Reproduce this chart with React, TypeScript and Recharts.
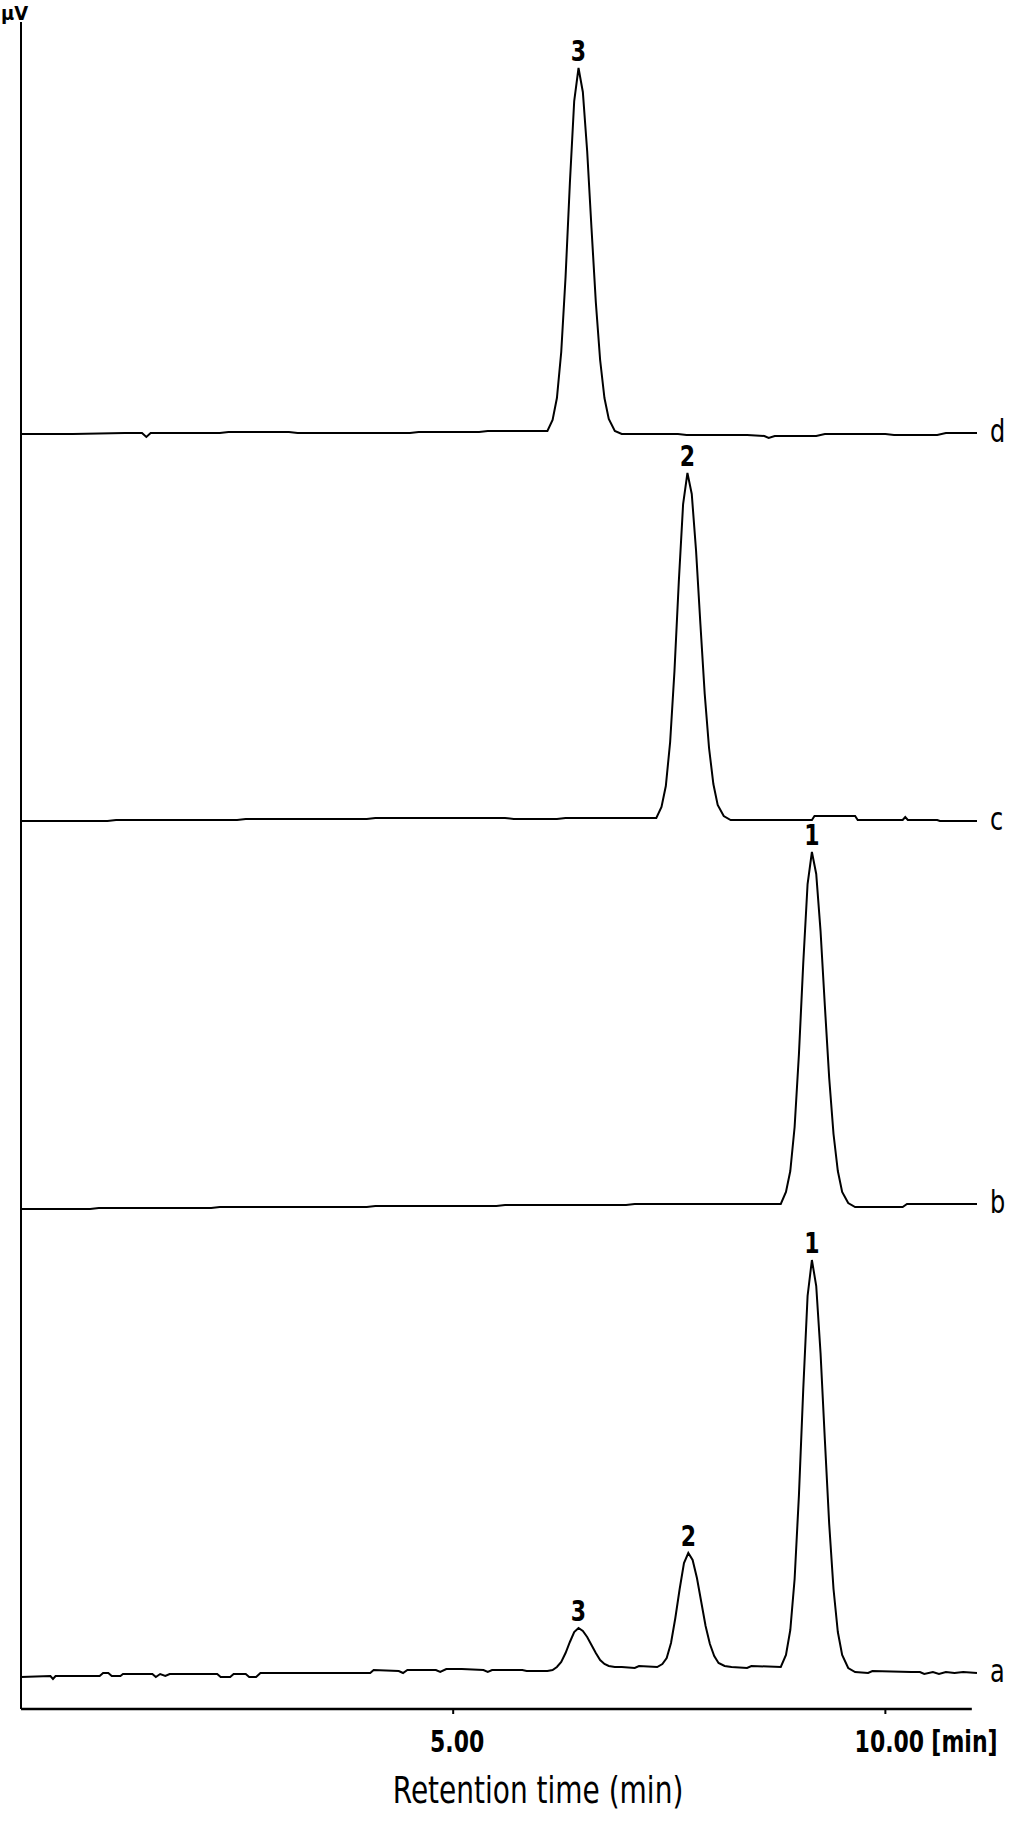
import { LineChart, Line, XAxis, YAxis, ReferenceDot, ReferenceLine } from 'recharts';

const FONT = '"DejaVu Sans", Verdana, sans-serif';

// [retention time (min), detector signal above the trace's own baseline]
const traceD: [number, number][] = [
  [0, -1], [0.6, -1], [1.2, 0], [1.4, 0], [1.45, -4], [1.5, 0], [2.3, 0], [2.4, 1], [3.1, 1], [3.2, 0],
  [4.5, 0], [4.6, 1], [5.3, 1], [5.4, 2], [6.09, 2], [6.15, 13], [6.2, 35], [6.25, 81], [6.3, 156],
  [6.35, 250], [6.4, 332], [6.45, 365], [6.5, 341], [6.55, 282], [6.6, 205], [6.65, 131], [6.7, 73],
  [6.75, 35], [6.8, 14], [6.87, 2], [6.95, -1], [7.6, -1], [7.7, -2], [8.4, -2], [8.6, -3], [8.65, -5],
  [8.72, -3], [9.2, -3], [9.3, -1], [10.0, -1], [10.1, -2], [10.6, -2], [10.7, 0], [11.06, 0],
];

const traceC: [number, number][] = [
  [0, -3], [1.0, -3], [1.1, -2], [2.5, -2], [2.6, -1], [4.0, -1], [4.1, 0], [5.6, 0], [5.7, -1], [6.2, -1],
  [6.3, 0], [7.35, 0], [7.41, 11], [7.46, 32], [7.51, 76], [7.56, 147], [7.61, 236], [7.66, 314],
  [7.71, 345], [7.76, 324], [7.81, 267], [7.86, 194], [7.91, 124], [7.96, 70], [8.01, 34], [8.06, 13],
  [8.13, 2], [8.21, -2], [9.15, -2], [9.18, 2], [9.65, 2], [9.68, -2], [10.2, -2], [10.23, 1],
  [10.26, -2], [10.6, -2], [10.63, -3], [11.06, -3],
];

const traceB: [number, number][] = [
  [0, -5], [0.8, -5], [0.9, -4], [2.2, -4], [2.3, -3], [4.0, -3], [4.1, -2], [5.5, -2], [5.6, -1],
  [7.0, -1], [7.1, 0], [8.79, 0], [8.85, 12], [8.9, 33], [8.95, 77], [9.0, 150], [9.05, 241],
  [9.1, 320], [9.15, 352], [9.2, 330], [9.25, 273], [9.3, 198], [9.35, 126], [9.4, 70], [9.45, 33],
  [9.5, 12], [9.57, 1], [9.65, -3], [10.2, -3], [10.25, 0], [11.06, 0],
];

const traceA: [number, number][] = [
  [0, -1], [0.34, 0], [0.37, -3], [0.4, 0], [0.91, 0], [0.95, 3], [1.01, 3], [1.05, 0], [1.15, 0],
  [1.18, 2], [1.52, 2], [1.56, -1], [1.61, 2], [1.67, 0], [1.72, 2], [2.27, 2], [2.31, -1], [2.42, -1],
  [2.46, 2], [2.6, 2], [2.64, -1], [2.72, -1], [2.77, 3], [4.04, 3], [4.08, 6], [4.37, 5], [4.42, 3],
  [4.47, 6], [4.8, 6], [4.85, 4], [4.92, 7], [5.1, 7], [5.35, 6], [5.4, 4], [5.45, 6], [5.8, 6],
  [5.85, 5], [6.09, 5], [6.15, 6], [6.2, 9], [6.25, 14], [6.3, 23], [6.35, 34], [6.4, 44], [6.45, 48],
  [6.5, 45], [6.55, 39], [6.6, 31], [6.65, 23], [6.7, 16], [6.75, 12], [6.8, 10], [6.87, 9], [6.95, 9],
  [7.1, 8], [7.15, 10], [7.36, 9], [7.42, 12], [7.47, 18], [7.52, 33], [7.57, 58], [7.62, 87],
  [7.67, 113], [7.72, 123], [7.77, 116], [7.82, 98], [7.87, 74], [7.92, 50], [7.97, 32], [8.02, 20],
  [8.07, 13], [8.14, 10], [8.22, 9], [8.4, 8], [8.45, 10], [8.79, 9], [8.85, 21], [8.9, 46], [8.95, 97],
  [9.0, 181], [9.05, 287], [9.1, 380], [9.15, 416], [9.2, 390], [9.25, 323], [9.3, 236], [9.35, 152],
  [9.4, 87], [9.45, 44], [9.5, 21], [9.57, 8], [9.65, 4], [9.8, 3], [9.85, 5], [10.3, 4], [10.4, 4],
  [10.45, 2], [10.55, 4], [10.62, 2], [10.7, 4], [10.8, 3], [10.9, 4], [11.06, 3],
];

const traceNames = ['d', 'c', 'b', 'a'];
const traceOffsets = [1276, 891, 505, 33];
const traces = [traceD, traceC, traceB, traceA];

const peakTraces = ['d', 'c', 'b', 'a', 'a', 'a'];
const peakTimes = [6.45, 7.71, 9.15, 6.45, 7.72, 9.15];
const peakNumbers = ['3', '2', '1', '3', '2', '1'];

const timeTicks = [5, 10];
const yMax = 1687;
const tMax = 11.06;
const axisEnd = 11;

const toRows = (pairs: [number, number][], offset: number) =>
  pairs.map(([t, s]) => ({ t, v: offset + s }));

const series = traceNames.map((name, i) => ({
  name,
  rows: toRows(traces[i], traceOffsets[i]),
}));

const peakDots = peakTraces.map((name, i) => {
  const s = series.find((x) => x.name === name)!;
  const row = s.rows.find((r) => r.t === peakTimes[i])!;
  return { t: row.t, v: row.v, text: peakNumbers[i] };
});

const centerOf = (vb: any) => ({
  cx: vb.x + (vb.width || 0) / 2,
  cy: vb.y + (vb.height || 0) / 2,
});

const PeakLabel = (text: string) => (props: any) => {
  const { cx, cy } = centerOf(props.viewBox);
  return (
    <g transform={`translate(${cx},${cy - 7}) scale(1,1.3)`}>
      <text textAnchor="middle" fontFamily={FONT} fontSize={22} fontWeight="bold" fill="#000">
        {text}
      </text>
    </g>
  );
};

const TraceLabel = (text: string) => (props: any) => {
  const { cx, cy } = centerOf(props.viewBox);
  return (
    <g transform={`translate(${cx + 13},${cy + 9}) scale(1,1.35)`}>
      <text fontFamily={FONT} fontSize={24} fill="#000">
        {text}
      </text>
    </g>
  );
};

const TimeTick = (props: any) => {
  const { x, y, payload } = props;
  return (
    <g transform={`translate(${x + 4},${y + 36}) scale(1,1.35)`}>
      <text textAnchor="middle" fontFamily={FONT} fontSize={22} fontWeight="bold" fill="#000">
        {Number(payload.value).toFixed(2)}
      </text>
      {payload.value === timeTicks[timeTicks.length - 1] && (
        <text x={42} fontFamily={FONT} fontSize={22} fontWeight="bold" fill="#000">
          [min]
        </text>
      )}
    </g>
  );
};

const XTitle = () => (
  <g transform="translate(538,1803) scale(1,1.35)">
    <text textAnchor="middle" fontFamily={FONT} fontSize={28} fill="#000">
      Retention time (min)
    </text>
  </g>
);

const YUnit = () => (
  <g transform="translate(1,20) scale(1,1.1)">
    <text fontFamily={FONT} fontSize={18} fontWeight="bold" fill="#000">
      μV
    </text>
  </g>
);

export default function App() {
  return (
    <div style={{ position: 'absolute', left: 0, top: 0, width: 1027, height: 1829, background: '#fff' }}>
      <LineChart width={1027} height={1829} margin={{ top: 22, right: 50, bottom: 119, left: 20 }}>
        <XAxis
          type="number"
          dataKey="t"
          domain={[0, tMax]}
          ticks={timeTicks}
          height={1}
          axisLine={false}
          tickLine={{ stroke: '#000', strokeWidth: 2 }}
          tickSize={5}
          tick={<TimeTick />}
          label={<XTitle />}
        />
        <YAxis
          type="number"
          domain={[0, yMax]}
          width={1}
          tick={false}
          tickLine={false}
          axisLine={{ stroke: '#000', strokeWidth: 2 }}
          label={<YUnit />}
        />
        <ReferenceLine
          segment={[{ x: 0, y: 0 }, { x: axisEnd, y: 0 }]}
          stroke="#000"
          strokeWidth={2.5}
        />
        {series.map((s) => (
          <Line
            key={s.name}
            data={s.rows}
            dataKey="v"
            type="linear"
            stroke="#000"
            strokeWidth={2}
            dot={false}
            activeDot={false}
            isAnimationActive={false}
          />
        ))}
        {series.map((s) => {
          const last = s.rows[s.rows.length - 1];
          return (
            <ReferenceDot
              key={'end-' + s.name}
              x={last.t}
              y={last.v}
              r={1}
              fill="none"
              stroke="none"
              label={TraceLabel(s.name)}
            />
          );
        })}
        {peakDots.map((p, i) => (
          <ReferenceDot
            key={'peak-' + i}
            x={p.t}
            y={p.v}
            r={1}
            fill="none"
            stroke="none"
            label={PeakLabel(p.text)}
          />
        ))}
      </LineChart>
    </div>
  );
}
